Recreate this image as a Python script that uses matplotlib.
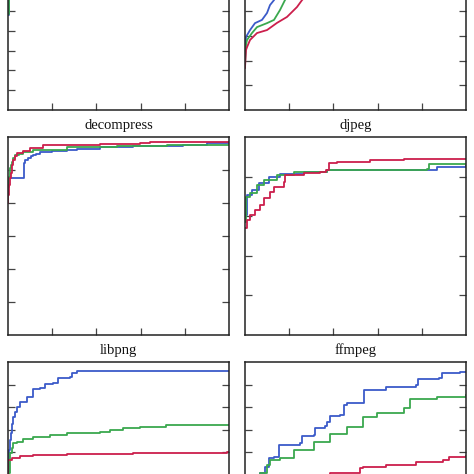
import matplotlib
matplotlib.use("Agg")
import matplotlib.pyplot as plt

# ---------------- data (x in hours, y = covered branches) ----------------
BLUE, GREEN, RED = "#3b5bc9", "#3aa84e", "#cc1f4c"

titles = ["decompress", "djpeg", "libpng", "ffmpeg"]

# decompress
dec_blue_x = [0, 0.08, 0.5, 25]
dec_blue_y = [480, 900, 910, 920]
dec_green_x = [0, 0.08, 0.5, 25]
dec_green_y = [485, 905, 912, 915]
dec_red_x = [0, 0.12, 0.8, 25]
dec_red_y = [560, 910, 920, 930]

# djpeg
djp_blue_x = [0, 0.03, 0.11, 0.57, 1.13, 1.92, 2.49, 2.83, 3.28, 3.96, 6.0, 25]
djp_blue_y = [174, 230, 295, 323, 351, 364, 392, 424, 444, 485, 560, 760]
djp_green_x = [0, 0.04, 0.11, 0.23, 0.79, 1.36, 2.49, 3.28, 3.96, 4.52, 5.3, 8.0, 25]
djp_green_y = [172, 215, 263, 283, 311, 335, 351, 364, 404, 444, 485, 560, 720]
djp_red_x = [0, 0.05, 0.11, 0.23, 0.57, 1.36, 2.49, 3.62, 4.75, 5.88, 6.45, 7.35, 10, 25]
djp_red_y = [170, 205, 242, 254, 283, 311, 323, 352, 376, 416, 444, 480, 560, 700]

# libpng
lib_blue_x = [0, 0.05, 1.81, 1.95, 2.26, 2.55, 2.83, 3.2, 3.62, 5.0, 6.67, 7.8, 10.4,
              14.1, 19.8, 22.5, 25]
lib_blue_y = [880, 951, 1042, 1060, 1073, 1082, 1091, 1100, 1109, 1115, 1121, 1127,
              1139, 1145, 1151, 1164, 1170]
lib_green_x = [0, 0.05, 0.15, 0.23, 0.35, 0.45, 0.6, 0.79, 1.2, 1.70, 2.83, 6.67,
               12.3, 18.0, 25]
lib_green_y = [820, 900, 960, 1012, 1030, 1048, 1070, 1091, 1100, 1109, 1121, 1139,
               1145, 1151, 1151]
lib_red_x = [0, 0.05, 0.11, 0.2, 0.34, 0.45, 0.57, 0.8, 1.02, 1.70, 2.49, 3.96, 10.4,
             14.9, 16.1, 25]
lib_red_y = [800, 850, 909, 950, 982, 1030, 1061, 1085, 1103, 1115, 1133, 1151, 1158,
             1164, 1170, 1170]

# ffmpeg
ff_blue_x = [0, 0.23, 0.79, 1.58, 2.71, 3.96, 6.67, 9.27, 21.7, 25]
ff_blue_y = [3030, 3535, 3661, 3838, 3990, 4065, 4116, 4166, 4242, 4267]
ff_green_x = [0, 0.11, 0.57, 1.36, 2.15, 3.62, 5.54, 9.27, 20.6, 20.8, 25]
ff_green_y = [2853, 3485, 3586, 3788, 3914, 4040, 4116, 4166, 4192, 4318, 4318]
ff_red_x = [0, 0.23, 0.57, 1.13, 1.70, 2.15, 2.83, 3.28, 4.41, 4.52, 6.67, 8.48,
            9.16, 9.50, 10.4, 14.1, 18.0, 25]
ff_red_y = [2702, 2904, 3030, 3156, 3283, 3459, 3611, 3737, 3863, 4040, 4091, 4116,
            4166, 4343, 4368, 4419, 4444, 4444]

# bottom-left panel
bl_blue_x = [0, 0.08, 0.11, 0.22, 0.34, 0.45, 0.57, 0.8, 1.02, 1.36, 2.15, 2.83, 3.62,
             4.18, 5.09, 5.66, 7.01, 7.24, 7.80, 25]
bl_blue_y = [300, 1017, 1272, 1380, 1461, 1560, 1639, 1700, 1750, 1806, 1861, 1950,
             1961, 2006, 2017, 2072, 2083, 2128, 2150, 2150]
bl_green_x = [0, 0.1, 0.23, 0.4, 0.57, 1.02, 1.70, 2.83, 4.75, 6.67, 10.4, 11.5, 13.0,
              14.9, 17.9, 25]
bl_green_y = [300, 1017, 1239, 1300, 1350, 1361, 1394, 1417, 1439, 1461, 1472, 1494,
              1517, 1528, 1550, 1550]
bl_red_x = [0, 0.05, 0.45, 1.36, 2.83, 6.67, 14.1, 18.6, 24.8, 25]
bl_red_y = [600, 1161, 1183, 1206, 1217, 1228, 1239, 1244, 1250, 1250]

# bottom-right panel
br_blue_x = [0, 0.5, 1.0, 1.70, 2.26, 2.71, 3.28, 3.85, 6.22, 6.45, 7.80, 7.92, 9.05,
             9.27, 9.61, 10.7, 11.2, 11.5, 13.45, 16.0, 19.4, 19.6, 22.0, 22.3, 24.3, 25]
br_blue_y = [300, 600, 850, 1017, 1083, 1183, 1194, 1328, 1350, 1428, 1439, 1517, 1539,
             1583, 1650, 1661, 1772, 1794, 1939, 1972, 1994, 2061, 2072, 2128, 2139, 2142]
br_green_x = [0, 1.0, 1.70, 2.49, 2.83, 3.96, 5.54, 7.80, 9.61, 11.5, 13.4, 14.9,
              18.0, 18.7, 21.7, 25]
br_green_y = [300, 850, 1017, 1106, 1161, 1183, 1272, 1361, 1450, 1528, 1639, 1683,
              1739, 1842, 1861, 1883]
br_red_x = [0, 5.0, 9.6, 13.0, 13.4, 16.0, 19.4, 22.4, 23.1, 25]
br_red_y = [200, 500, 1017, 1072, 1083, 1106, 1139, 1161, 1194, 1206]

panels = [
    dict(series=[(dec_blue_x, dec_blue_y, BLUE), (dec_green_x, dec_green_y, GREEN),
                 (dec_red_x, dec_red_y, RED)], ylim=(0, 1000), ystep=100, ds="steps-post"),
    dict(series=[(djp_blue_x, djp_blue_y, BLUE), (djp_green_x, djp_green_y, GREEN),
                 (djp_red_x, djp_red_y, RED)], ylim=(0, 800), ystep=100, ds="default"),
    dict(series=[(lib_blue_x, lib_blue_y, BLUE), (lib_green_x, lib_green_y, GREEN),
                 (lib_red_x, lib_red_y, RED)], ylim=(0, 1200), ystep=200, ds="steps-post"),
    dict(series=[(ff_blue_x, ff_blue_y, BLUE), (ff_green_x, ff_green_y, GREEN),
                 (ff_red_x, ff_red_y, RED)], ylim=(0, 5000), ystep=1000, ds="steps-post"),
    dict(series=[(bl_blue_x, bl_blue_y, BLUE), (bl_green_x, bl_green_y, GREEN),
                 (bl_red_x, bl_red_y, RED)], ylim=(50, 2250), ystep=250, ds="steps-post"),
    dict(series=[(br_blue_x, br_blue_y, BLUE), (br_green_x, br_green_y, GREEN),
                 (br_red_x, br_red_y, RED)], ylim=(50, 2250), ystep=250, ds="steps-post"),
]

# ---------------- layout ----------------
W = H = 474
fig = plt.figure(figsize=(W / 100, H / 100), dpi=100)
col_x = [8, 245]
aw, ah = 221, 198
row_bottom = [110, 335, 560]

for i, p in enumerate(panels):
    r, c = divmod(i, 2)
    x0 = col_x[c]
    yb = row_bottom[r]
    ax = fig.add_axes([x0 / W, 1 - yb / H, aw / W, ah / H])
    for xs, ys, col in p["series"]:
        ax.plot(xs, ys, drawstyle=p["ds"], color=col, lw=1.3)
    ax.set_xlim(0, 25)
    ax.set_ylim(*p["ylim"])
    ax.set_xticks([5, 10, 15, 20])
    lo, hi = p["ylim"]
    st = p["ystep"]
    first = (int(lo // st) + 1) * st
    ax.set_yticks(list(range(first, int(hi), st)))
    ax.tick_params(axis="x", direction="in", length=5, width=0.9, color="#444444",
                   labelbottom=False, bottom=True, top=False)
    ax.tick_params(axis="y", direction="in", length=5, width=0.9, color="#444444",
                   labelleft=False, left=True, right=True)
    for s in ax.spines.values():
        s.set_color("#222222")
        s.set_linewidth(1.1)

# titles below first two rows
for i, t in enumerate(titles):
    r, c = divmod(i, 2)
    cx = (col_x[c] + aw / 2) / W
    by = 1 - (row_bottom[r] + 19) / H
    fig.text(cx, by, t, ha="center", va="baseline", fontsize=10.5,
             family=["Liberation Serif", "DejaVu Serif"], color="#111111")

fig.savefig("out.png", dpi=100)
